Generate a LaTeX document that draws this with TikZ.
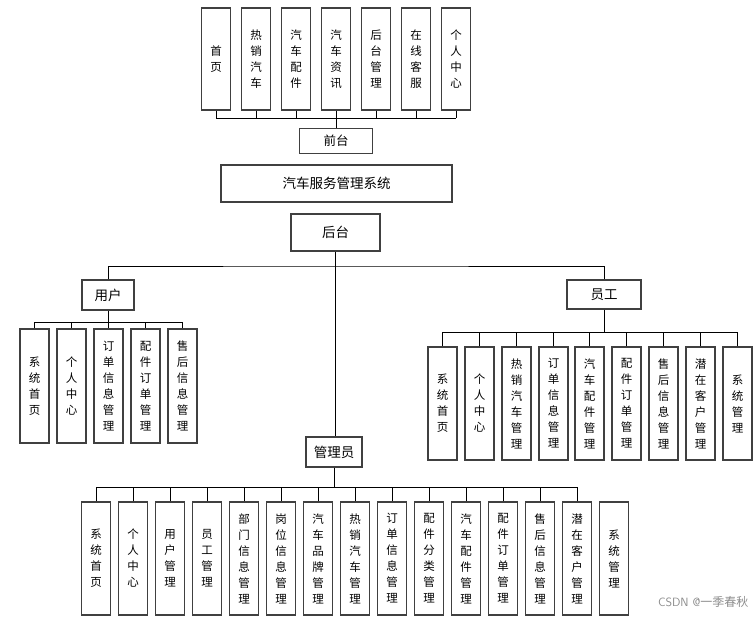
\documentclass[tikz,border=0pt]{standalone}
\usepackage{fontspec}
\newfontfamily\cjk{Noto Sans CJK SC}
\begin{document}
\begin{tikzpicture}[x=1pt,y=-1pt,
  bx/.style={draw=black!75,line width=1.1pt,fill=white,inner sep=0pt,font=\cjk\fontsize{12.5}{14}\selectfont},
  vb/.style={bx,minimum width=29pt,align=center,font=\cjk\fontsize{11.5}{16}\selectfont},
  ln/.style={draw=black,line width=0.8pt}]
\useasboundingbox (0,0) rectangle (756,620);
% top row
\foreach \x/\t [count=\i] in {201/首\\页,241/热\\销\\汽\\车,281/汽\\车\\配\\件,321/汽\\车\\资\\讯,361/后\\台\\管\\理,401/在\\线\\客\\服,441/个\\人\\中\\心}
  \node[vb,minimum height=102pt] (t\i) at (\x+15,59) {\t};
\node[bx,minimum width=73pt,minimum height=25pt] (qt) at (336,141) {前台};
\node[bx,minimum width=231pt,minimum height=37pt,font=\cjk\fontsize{13.5}{15}\selectfont] (sys) at (336.5,183.5) {汽车服务管理系统};
\node[bx,minimum width=89pt,minimum height=37pt,font=\cjk\fontsize{13.5}{15}\selectfont] (ht) at (335.5,232.5) {后台};
\foreach \i in {1,...,7} \draw[ln] (t\i.south) -- (t\i.south |- 0,118);
\draw[ln] (t1.south |- 0,118) -- (t7.south |- 0,118);
\draw[ln] (qt.north) -- (qt.north |- 0,118);
% second level
\node[bx,minimum width=52pt,minimum height=30pt,font=\cjk\fontsize{13.5}{15}\selectfont] (yh) at (108,295) {用户};
\node[bx,minimum width=74pt,minimum height=29pt,font=\cjk\fontsize{13.5}{15}\selectfont] (yg) at (604,294.5) {员工};
\node[bx,minimum width=56pt,minimum height=30pt,font=\cjk\fontsize{13.5}{15}\selectfont] (gl) at (334,452) {管理员};
\coordinate (hb) at (335.5,266);
\draw[ln] (ht.south) -- (hb);
\draw[ln] (yh.north) |- (hb) -| (yg.north);
\draw[ln] (hb) -- (hb |- gl.north);
% user children
\foreach \x/\t [count=\i] in {20/系\\统\\首\\页,57/个\\人\\中\\心,94/订\\单\\信\\息\\管\\理,131/配\\件\\订\\单\\管\\理,168/售\\后\\信\\息\\管\\理}
  \node[vb,minimum height=114pt] (u\i) at (\x+14.5,386) {\t};
\draw[ln] (yh.south) -- (yh.south |- 0,322);
\draw[ln] (u1.north |- 0,322) -- (u5.north |- 0,322);
\foreach \i in {1,...,5} \draw[ln] (u\i.north) -- (u\i.north |- 0,322);
% staff children
\foreach \x/\t [count=\i] in {428/系\\统\\首\\页,465/个\\人\\中\\心,502/热\\销\\汽\\车\\管\\理,539/订\\单\\信\\息\\管\\理,575/汽\\车\\配\\件\\管\\理,612/配\\件\\订\\单\\管\\理,649/售\\后\\信\\息\\管\\理,686/潜\\在\\客\\户\\管\\理,723/系\\统\\管\\理}
  \node[vb,minimum height=113pt] (s\i) at (\x+14.5,403.5) {\t};
\draw[ln] (yg.south) -- (yg.south |- 0,332);
\draw[ln] (s1.north |- 0,332) -- (s9.north |- 0,332);
\foreach \i in {1,...,9} \draw[ln] (s\i.north) -- (s\i.north |- 0,332);
% admin children
\foreach \x/\t [count=\i] in {82/系\\统\\首\\页,119/个\\人\\中\\心,156/用\\户\\管\\理,193/员\\工\\管\\理,230/部\\门\\信\\息\\管\\理,267/岗\\位\\信\\息\\管\\理,304/汽\\车\\品\\牌\\管\\理,341/热\\销\\汽\\车\\管\\理,378/订\\单\\信\\息\\管\\理,415/配\\件\\分\\类\\管\\理,452/汽\\车\\配\\件\\管\\理,489/配\\件\\订\\单\\管\\理,526/售\\后\\信\\息\\管\\理,563/潜\\在\\客\\户\\管\\理,600/系\\统\\管\\理}
  \node[vb,minimum height=113pt] (a\i) at (\x+14,558.5) {\t};
\draw[ln] (gl.south) -- (gl.south |- 0,487);
\draw[ln] (a1.north |- 0,487) -- (a14.north |- 0,487);
\foreach \i in {1,...,14} \draw[ln] (a\i.north) -- (a\i.north |- 0,487);
\node[font=\fontsize{12}{13}\selectfont\sffamily,text=black!45,anchor=east] (wm) at (752,602) {CSDN @\cjk 一季春秋};
\end{tikzpicture}
\end{document}
